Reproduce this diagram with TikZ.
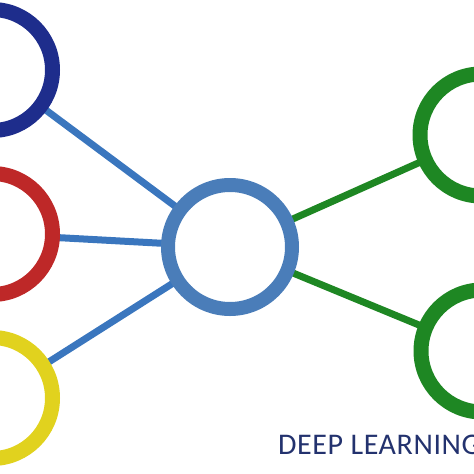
\documentclass[tikz,border=0pt]{standalone}
\usepackage{fontspec}
\setmainfont{Carlito}
\newfontfamily\dlfont[LetterSpace=2]{Carlito}
\usetikzlibrary{backgrounds}
\definecolor{cdarkblue}{RGB}{30,45,140}
\definecolor{cred}{RGB}{190,40,40}
\definecolor{cyellow}{RGB}{225,210,30}
\definecolor{ccenter}{RGB}{74,125,185}
\definecolor{clink}{RGB}{58,118,190}
\definecolor{cgreen}{RGB}{30,135,35}
\definecolor{ctext}{RGB}{35,50,110}
\tikzset{
  ring/.style={circle, draw=#1, line width=15pt, inner sep=0pt, minimum size=121pt},
  bluelink/.style={draw=clink, line width=7pt, shorten <=-5pt, shorten >=-5pt},
  greenlink/.style={draw=cgreen, line width=7pt, shorten <=-5pt, shorten >=-5pt},
}
\begin{document}
\begin{tikzpicture}[x=1pt,y=-1pt]
\useasboundingbox (0,0) rectangle (474,474);
\node[ring=cdarkblue] (in1) at (-8,70) {};
\node[ring=cred] (in2) at (-8,234) {};
\node[ring=cyellow] (in3) at (-8,398) {};
\node[ring=ccenter, line width=14pt, minimum size=124pt] (hid) at (230,247) {};
\node[ring=cgreen, minimum size=122pt] (out1) at (481,135) {};
\node[ring=cgreen, minimum size=122pt] (out2) at (482,351) {};
\begin{pgfonlayer}{background}
\draw[bluelink] (in1) -- (hid);
\draw[bluelink] (in2) -- (hid);
\draw[bluelink] (in3) -- (hid);
\draw[greenlink] (hid) -- (out1);
\draw[greenlink] (hid) -- (out2);
\end{pgfonlayer}
\node[anchor=base west, inner sep=0pt, text=ctext, font=\dlfont\fontsize{30}{34}\selectfont] (title) at (278,454) {DEEP LEARNING};
\end{tikzpicture}
\end{document}
